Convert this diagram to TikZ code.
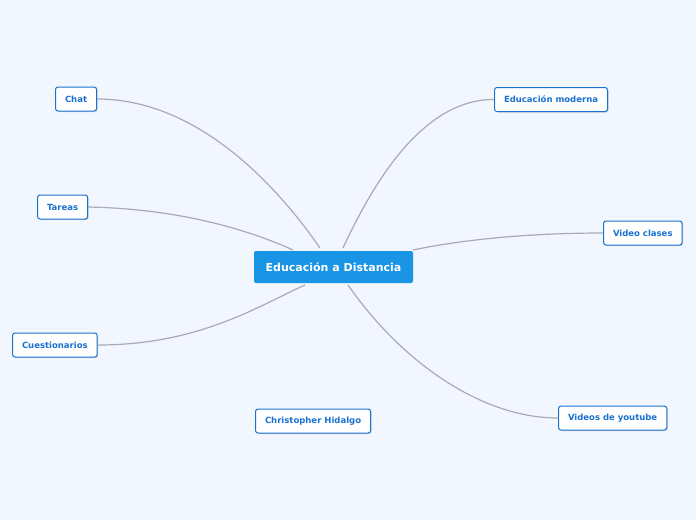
\documentclass[tikz,border=0pt]{standalone}
\usepackage{fontspec}
\setmainfont{DejaVu Sans}
\usetikzlibrary{shadows}
\definecolor{bg}{HTML}{F2F6FE}
\definecolor{mainblue}{HTML}{1A95E6}
\definecolor{leafblue}{HTML}{1A72D0}
\definecolor{linkgray}{HTML}{A8ABB6}
\begin{document}
\begin{tikzpicture}[x=1pt,y=-1pt,
  leaf/.style={draw=leafblue,line width=1pt,fill=white,rounded corners=2.5pt,text=leafblue,font=\fontsize{8.5}{10}\selectfont\bfseries,inner xsep=9.5pt,minimum height=24pt,anchor=west,drop shadow={shadow xshift=1pt,shadow yshift=-1pt,opacity=0.3}},
  link/.style={draw=linkgray,line width=1.2pt}]
\fill[bg] (0,0) rectangle (696,520);
\useasboundingbox (0,0) rectangle (696,520);
\node[fill=mainblue,rounded corners=2pt,text=white,font=\fontsize{11}{13}\selectfont\bfseries,minimum width=159pt,minimum height=32pt] (c) at (333.5,267) {Educación a Distancia};
\node[leaf] (chat) at (55,99) {Chat};
\node[leaf] (tar) at (37,207) {Tareas};
\node[leaf] (cue) at (12,345) {Cuestionarios};
\node[leaf] (chr) at (255,421) {Christopher Hidalgo};
\node[leaf] (edm) at (494,99.5) {Educación moderna};
\node[leaf] (vc) at (603,233) {Video clases};
\node[leaf] (yt) at (558,418) {Videos de youtube};
\coordinate (s1) at (320,248);
\coordinate (s2) at (293,250);
\coordinate (s3) at (305,285);
\coordinate (s4) at (343,248);
\coordinate (s5) at (413,250);
\coordinate (s6) at (348,285);
\draw[link] (chat.east) .. controls (200,99) and (280,190) .. (s1);
\draw[link] (tar.east) .. controls (190,209) and (260,235) .. (s2);
\draw[link] (cue.east) .. controls (200,345) and (260,305) .. (s3);
\draw[link] (edm.west) .. controls (420,99) and (370,190) .. (s4);
\draw[link] (s5) .. controls (470,238) and (540,233) .. (vc.west);
\draw[link] (s6) .. controls (400,360) and (480,418) .. (yt.west);
\end{tikzpicture}
\end{document}
